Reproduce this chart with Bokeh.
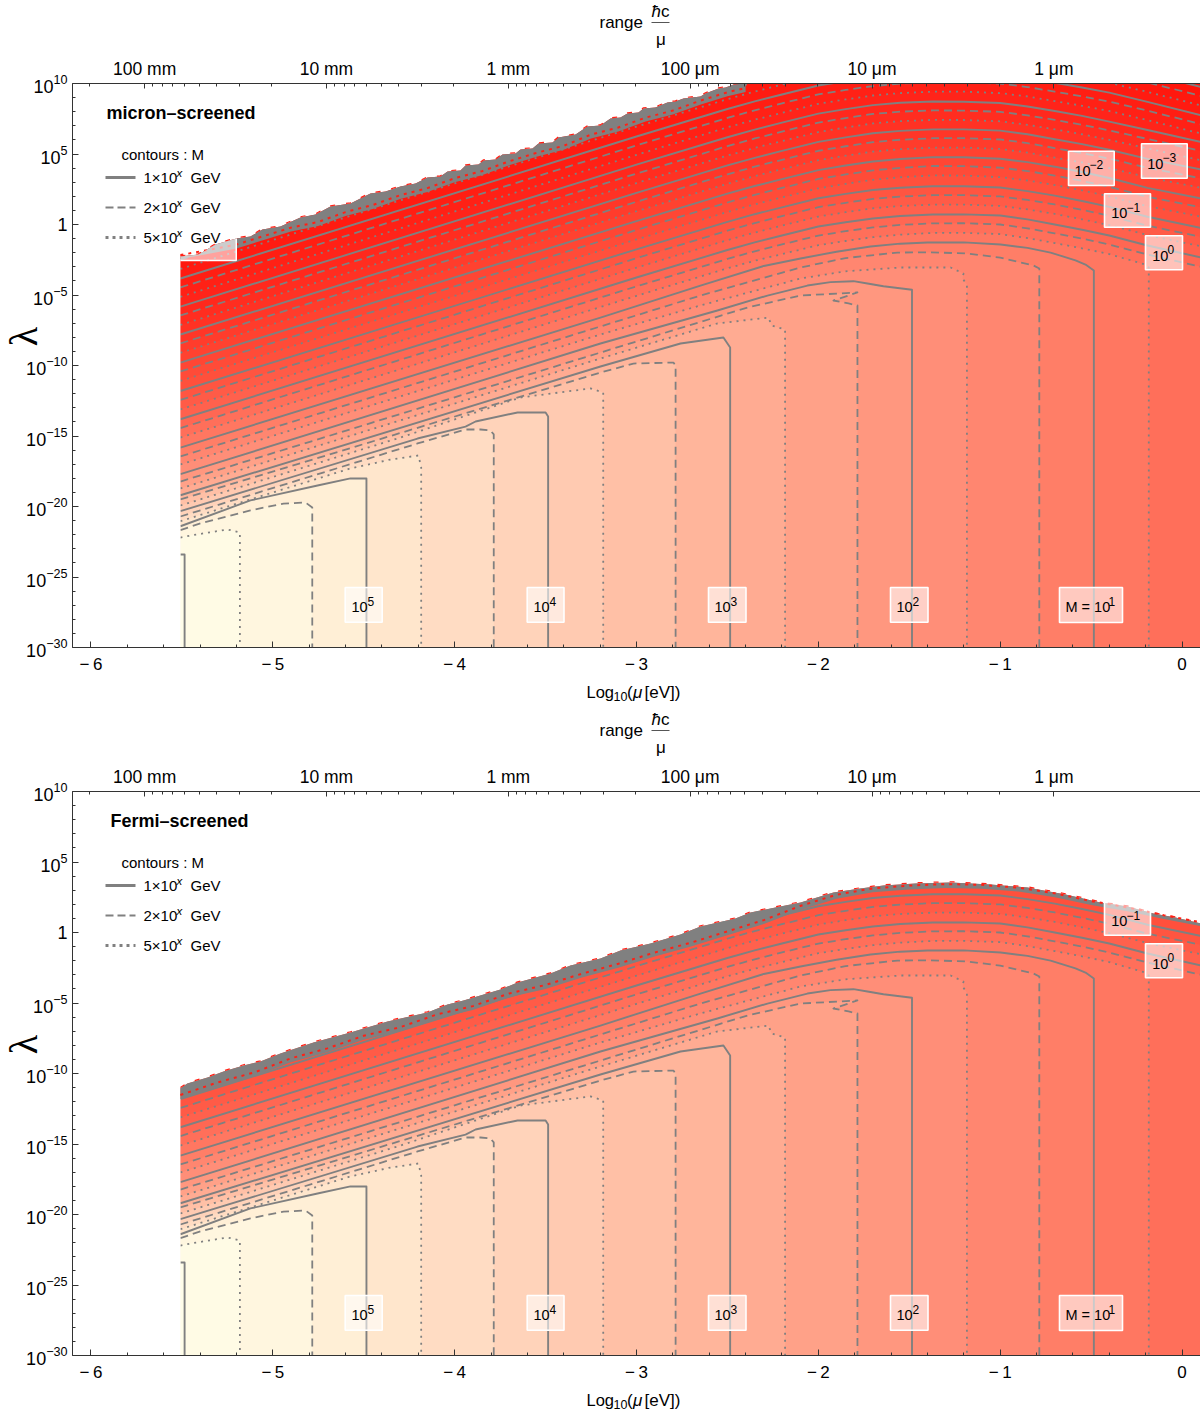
import math
import numpy as np
from bokeh.core.properties import value
from bokeh.embed import file_html
from bokeh.resources import INLINE
from bokeh.layouts import column
from bokeh.models import FixedTicker, Label, LinearAxis, LogTickFormatter, Range1d
from bokeh.plotting import figure

# ---------- values ----------
HBARC_EV_M = 1.973e-7
RANGE_METERS = [0.1, 0.01, 1e-3, 1e-4, 1e-5, 1e-6]
RANGE_LABELS = ["100 mm", "10 mm", "1 mm", "100 μm", "10 μm", "1 μm"]
X_TICKS = [-6, -5, -4, -3, -2, -1, 0]
Y_TICKS_EXP = [-30, -25, -20, -15, -10, -5, 0, 5, 10]

# contours that run off the right edge: x = log10(mu/eV), values = log10(lambda)
UPPER_X = [-5.508, -3.0, -2.5, -2.35, -2.2, -2.0, -1.85, -1.7, -1.55, -1.37, -1.2, -1.0, -0.85, -0.7, -0.55, -0.4, -0.19, 0.105]
V_1em6 = [-1.85, 8.24, 10.19, 10.73, 11.22, 11.86, 12.17, 12.45, 12.62, 12.72, 12.72, 12.62, 12.38, 12.05, 11.72, 11.35, 10.7, 9.75]
V_2em6 = [-2.48, 7.61, 9.56, 10.10, 10.59, 11.23, 11.54, 11.82, 11.99, 12.09, 12.09, 11.99, 11.75, 11.42, 11.09, 10.72, 10.07, 9.12]
V_5em6 = [-3.15, 6.94, 8.89, 9.43, 9.92, 10.56, 10.87, 11.15, 11.32, 11.42, 11.42, 11.32, 11.08, 10.75, 10.42, 10.05, 9.4, 8.45]
V_1em5 = [-3.83, 6.24, 8.19, 8.73, 9.22, 9.86, 10.17, 10.45, 10.62, 10.72, 10.72, 10.62, 10.38, 10.05, 9.72, 9.35, 8.7, 7.75]
V_2em5 = [-4.46, 5.61, 7.56, 8.10, 8.59, 9.23, 9.54, 9.82, 9.99, 10.09, 10.09, 9.99, 9.75, 9.42, 9.09, 8.72, 8.07, 7.12]
V_5em5 = [-5.13, 4.94, 6.89, 7.43, 7.92, 8.56, 8.87, 9.15, 9.32, 9.42, 9.42, 9.32, 9.08, 8.75, 8.42, 8.05, 7.4, 6.45]
V_1em4 = [-5.82, 4.24, 6.19, 6.73, 7.22, 7.86, 8.18, 8.47, 8.63, 8.72, 8.71, 8.62, 8.37, 8.05, 7.70, 7.3, 6.7, 5.85]
V_2em4 = [-6.45, 3.61, 5.56, 6.10, 6.59, 7.23, 7.55, 7.84, 8.0, 8.09, 8.08, 7.99, 7.74, 7.42, 7.07, 6.67, 6.07, 5.22]
V_5em4 = [-7.12, 2.94, 4.89, 5.43, 5.92, 6.56, 6.88, 7.17, 7.33, 7.42, 7.41, 7.32, 7.07, 6.75, 6.40, 6.0, 5.4, 4.55]
V_1em3 = [-7.8, 2.24, 4.19, 4.73, 5.22, 5.86, 6.18, 6.47, 6.64, 6.75, 6.75, 6.66, 6.40, 6.05, 5.70, 5.3, 4.65, 3.9]
V_2em3 = [-8.43, 1.61, 3.56, 4.10, 4.59, 5.23, 5.55, 5.84, 6.01, 6.12, 6.12, 6.03, 5.77, 5.42, 5.07, 4.67, 4.02, 3.27]
V_5em3 = [-9.1, 0.94, 2.89, 3.43, 3.92, 4.56, 4.88, 5.17, 5.34, 5.45, 5.45, 5.36, 5.10, 4.75, 4.40, 4.0, 3.35, 2.6]
V_1em2 = [-9.79, 0.24, 2.19, 2.73, 3.22, 3.86, 4.18, 4.47, 4.65, 4.78, 4.77, 4.66, 4.42, 4.1, 3.72, 3.3, 2.6, 1.85]
V_2em2 = [-10.42, -0.39, 1.56, 2.10, 2.59, 3.23, 3.55, 3.84, 4.02, 4.15, 4.14, 4.03, 3.79, 3.47, 3.09, 2.67, 1.97, 1.22]
V_5em2 = [-11.09, -1.06, 0.89, 1.43, 1.92, 2.56, 2.88, 3.17, 3.35, 3.48, 3.47, 3.36, 3.12, 2.8, 2.42, 2.0, 1.3, 0.55]
V_1em1 = [-11.81, -1.76, 0.19, 0.73, 1.22, 1.86, 2.17, 2.45, 2.61, 2.71, 2.71, 2.62, 2.37, 2.05, 1.67, 1.25, 0.55, -0.25]
V_2em1 = [-12.44, -2.39, -0.44, 0.10, 0.59, 1.23, 1.54, 1.82, 1.98, 2.08, 2.08, 1.99, 1.74, 1.42, 1.04, 0.62, -0.08, -0.88]
V_5em1 = [-13.11, -3.06, -1.11, -0.57, -0.08, 0.56, 0.87, 1.15, 1.31, 1.41, 1.41, 1.32, 1.07, 0.75, 0.37, -0.05, -0.75, -1.55]
V_1e0 = [-13.81, -3.76, -1.81, -1.27, -0.78, -0.14, 0.16, 0.43, 0.60, 0.71, 0.72, 0.64, 0.36, 0.0, -0.37, -0.78, -1.49, -2.34]
V_2e0 = [-14.44, -4.39, -2.44, -1.90, -1.41, -0.79, -0.47, -0.21, -0.03, 0.08, 0.09, 0.0, -0.27, -0.63, -1.0, -1.42, -2.13, -3.0]

# contours that turn down into a vertical line
X_5e0 = [-5.508, -3.0, -2.5, -2.35, -2.2, -2.0, -1.85, -1.7, -1.55, -1.37, -1.2, -1.0, -0.85, -0.7, -0.55, -0.4, -0.2, -0.183, -0.183]
V_5e0 = [-15.11, -5.06, -3.11, -2.57, -2.1, -1.47, -1.17, -0.9, -0.72, -0.6, -0.59, -0.68, -0.96, -1.32, -1.69, -2.1, -2.85, -3.05, -30]
X_1e1 = [-5.508, -3.198, -2.648, -2.3, -2.098, -1.9, -1.713, -1.55, -1.4, -1.2, -0.998, -0.85, -0.723, -0.586, -0.531, -0.485, -0.485]
V_1e1 = [-15.82, -6.6, -4.33, -2.94, -2.41, -1.93, -1.56, -1.36, -1.28, -1.27, -1.42, -1.66, -1.99, -2.55, -2.84, -3.26, -30]
X_2e1 = [-5.508, -3.198, -2.648, -2.098, -1.85, -1.565, -1.38, -1.18, -1.0, -0.817, -0.785, -0.785]
V_2e1 = [-16.45, -7.23, -5.04, -3.05, -2.38, -1.99, -1.97, -2.06, -2.35, -2.91, -3.12, -30]
X_5e1 = [-5.508, -3.198, -2.648, -2.098, -1.85, -1.548, -1.273, -1.202, -1.207, -1.183, -1.183]
V_5e1 = [-17.02, -7.8, -5.74, -3.83, -3.32, -3.05, -3.05, -3.48, -3.83, -4.26, -30]
X_1e2 = [-5.508, -3.198, -2.555, -2.28, -2.06, -1.933, -1.807, -1.73, -1.642, -1.485, -1.485]
V_1e2 = [-17.71, -8.44, -6.1, -5.04, -4.33, -4.09, -4.02, -4.18, -4.38, -4.63, -30]
X_2e2 = [-5.508, -3.198, -2.39, -2.098, -1.785, -1.917, -1.834, -1.785, -1.785]
V_2e2 = [-18.23, -9.08, -5.89, -5.04, -4.82, -5.39, -5.6, -5.74, -30]
X_5e2 = [-5.508, -3.198, -2.555, -2.274, -2.258, -2.183, -2.183]
V_5e2 = [-18.72, -9.5, -7.02, -6.6, -7.16, -7.45, -30]
X_1e3 = [-5.508, -3.198, -2.758, -2.522, -2.485, -2.485]
V_1e3 = [-19.2, -10.07, -8.44, -8.01, -8.72, -30]
X_2e3 = [-5.508, -3.198, -3.017, -2.797, -2.785, -2.785]
V_2e3 = [-19.5, -10.5, -9.86, -9.79, -10.0, -30]
X_5e3 = [-5.508, -4.298, -3.638, -3.253, -3.183, -3.183]
V_5e3 = [-19.93, -15.11, -12.27, -11.63, -11.91, -30]
X_1e4 = [-5.508, -4.204, -3.94, -3.885, -3.654, -3.5, -3.486, -3.486]
V_1e4 = [-20.33, -15.18, -14.33, -13.97, -13.33, -13.33, -13.62, -30]
X_2e4 = [-5.508, -4.204, -3.94, -3.858, -3.803, -3.785, -3.785]
V_2e4 = [-20.71, -15.53, -14.54, -14.54, -14.61, -14.89, -30]
X_5e4 = [-5.508, -4.573, -4.353, -4.199, -4.184, -4.184]
V_5e4 = [-21.04, -17.3, -16.67, -16.38, -17.23, -30]
X_1e5 = [-5.508, -5.123, -4.754, -4.573, -4.485, -4.485]
V_1e5 = [-21.4, -19.57, -18.51, -18.01, -18.01, -30]
X_2e5 = [-5.508, -5.398, -5.123, -4.941, -4.82, -4.783, -4.783]
V_2e5 = [-21.67, -21.2, -20.28, -19.79, -19.72, -20.07, -30]
X_5e5 = [-5.508, -5.453, -5.249, -5.181, -5.181]
V_5e5 = [-22.2, -22.06, -21.63, -21.84, -30]
X_1e6 = [-5.508, -5.485, -5.485]
V_1e6 = [-23.4, -23.4, -30]

M_LEVELS = [1e-6, 2e-6, 5e-6, 1e-5, 2e-5, 5e-5, 1e-4, 2e-4, 5e-4, 1e-3, 2e-3, 5e-3, 1e-2, 2e-2, 5e-2,
            1e-1, 2e-1, 5e-1, 1e0, 2e0, 5e0, 1e1, 2e1, 5e1, 1e2, 2e2, 5e2, 1e3, 2e3, 5e3, 1e4, 2e4, 5e4,
            1e5, 2e5, 5e5, 1e6]
M_DIGIT = [1, 2, 5] * 12 + [1]
CONTOUR_X = [UPPER_X] * 20 + [X_5e0, X_1e1, X_2e1, X_5e1, X_1e2, X_2e2, X_5e2, X_1e3, X_2e3, X_5e3,
                              X_1e4, X_2e4, X_5e4, X_1e5, X_2e5, X_5e5, X_1e6]
CONTOUR_V = [V_1em6, V_2em6, V_5em6, V_1em5, V_2em5, V_5em5, V_1em4, V_2em4, V_5em4, V_1em3, V_2em3, V_5em3,
             V_1em2, V_2em2, V_5em2, V_1em1, V_2em1, V_5em1, V_1e0, V_2e0, V_5e0, V_1e1, V_2e1, V_5e1,
             V_1e2, V_2e2, V_5e2, V_1e3, V_2e3, V_5e3, V_1e4, V_2e4, V_5e4, V_1e5, V_2e5, V_5e5, V_1e6]

# upper edge of the computed region, panel 1
EDGE1_X = [-5.508, -5.409, -5.315, -5.201, -5.123, -5.057, -4.958, -4.848, -4.765, -4.683, -4.573, -4.463, -4.380,
           -4.298, -4.215, -4.149, -4.078, -4.039, -3.968, -3.940, -3.869, -3.841, -3.775, -3.737, -3.665, -3.638,
           -3.572, -3.539, -3.462, -3.429, -3.335, -3.270, -3.198, -3.143, -3.088, -3.050, -2.989, -2.962, -2.896,
           -2.830, -2.786, -2.742, -2.648, -2.621, -2.549, -2.510, -2.466, -2.400]
EDGE1_V = [-2.27, -2.13, -1.42, -0.99, -0.85, -0.35, -0.14, 0.50, 0.71, 1.28, 1.49, 2.2, 2.34,
           2.70, 2.91, 3.33, 3.40, 3.76, 3.83, 4.18, 4.26, 4.54, 4.61, 4.96, 5.04, 5.32,
           5.39, 5.74, 5.82, 6.17, 6.38, 6.95, 7.02, 7.52, 7.59, 7.87, 7.94, 8.23, 8.30,
           8.65, 8.72, 8.94, 9.08, 9.29, 9.65, 9.72, 9.93, 10.0]
BAND1_X = [-5.508, -5.3, -5.2, -5.05, -4.9, -4.75, -4.6, -4.45, -4.3, -4.15, -4.0, -3.85, -3.7, -3.55, -3.4, -3.25,
           -3.1, -2.95, -2.8, -2.65, -2.5, -2.4]
BAND1_V = [-2.45, -1.95, -1.7, -1.1, -0.5, -0.1, 0.6, 1.1, 1.8, 2.3, 3.0, 3.5, 4.2, 4.8, 5.3, 6.1,
           6.6, 7.3, 7.8, 8.5, 9.1, 9.4]

# upper edge of the computed region, panel 2
EDGE2_X = [-5.508, -5.47, -5.359, -5.271, -5.161, -5.068, -4.958, -4.776, -4.573, -4.369, -4.149, -4.039, -3.951,
           -3.748, -3.654, -3.473, -3.363, -3.198, -3.088, -2.923, -2.758, -2.648, -2.456, -2.373, -2.236, -2.098,
           -1.917, -1.77, -1.642, -1.466, -1.273, -1.054, -0.85, -0.641, -0.449, -0.3, -0.157, -0.036, 0.102]
EDGE2_V = [-11.04, -10.71, -10.28, -9.86, -9.43, -9.15, -8.58, -7.80, -7.09, -6.31, -5.67, -5.11, -4.82,
           -4.04, -3.55, -2.91, -2.34, -1.84, -1.28, -0.78, -0.14, 0.43, 0.99, 1.42, 1.77, 2.13,
           2.84, 3.12, 3.33, 3.48, 3.55, 3.40, 3.19, 2.70, 2.13, 1.84, 1.35, 1.06, 0.64]
BAND2_X = [-5.508, -5.3, -5.1, -4.9, -4.7, -4.5, -4.3, -4.1, -3.9, -3.7, -3.5, -3.3, -3.1, -2.9, -2.7, -2.5, -2.3,
           -2.1, -1.9, -1.7, -1.5, -1.3, -1.1, -0.9, -0.7, -0.5, -0.3, -0.1, 0.102]
BAND2_V = [-11.8, -10.9, -10.2, -9.2, -8.5, -7.6, -7.0, -6.1, -5.5, -4.6, -4.0, -3.2, -2.5, -1.7, -1.0, -0.2, 0.6,
           1.6, 2.4, 2.85, 3.05, 3.15, 3.1, 2.9, 2.5, 1.95, 1.5, 0.95, 0.45]

# ---------- styling and page geometry ----------
FONT = "Liberation Sans"
GRAY = "#808080"
FRAME_L, FRAME_R, FRAME_T, FRAME_B = 72, 1200, 83, 647
DOMAIN_L = -5.508
LEFT_EXTRA = 22  # thickness the rotated lambda adds to the left panel
FIG_W = 1200 + 2 * LEFT_EXTRA


def to_x(px):
    return -5 + (px - 272.3) / 181.85


def to_v(py):
    return 10 - (py - 83) / 14.1


def lam(vs):
    return [10.0 ** v for v in vs]


COLOR_LOG = [-7, -6, -5, -4, -3, -2, -1, 0, 1, 2, 3, 4, 5, 5.3, 6, 7]
COLOR_G = [18, 20, 28, 38, 52, 68, 82, 100, 122, 146, 176, 207, 234, 243, 253, 254]
COLOR_B = [8, 10, 18, 27, 38, 50, 62, 80, 100, 123, 150, 182, 208, 220, 232, 236]


def band_color(logm):
    g = int(round(np.interp(logm, COLOR_LOG, COLOR_G)))
    b = int(round(np.interp(logm, COLOR_LOG, COLOR_B)))
    return "#ff%02x%02x" % (g, b)


def ptext(p, px, py, text, size, align="left", baseline="middle", style="normal", color="black",
          font=FONT, angle=0.0, side=None):
    lab = Label(x=to_x(px), y=10.0 ** to_v(py), text=text, x_units="data", y_units="data",
                text_font=font, text_font_size=f"{size}px", text_align=align,
                text_baseline=baseline, text_font_style=style, text_color=color, angle=angle)
    if side:
        # a label held in a side panel is not cut to the frame
        p.add_layout(lab, side)
    else:
        p.add_layout(lab)


def box(p, l, r, t, b):
    p.quad(left=to_x(l), right=to_x(r), top=10.0 ** to_v(t), bottom=10.0 ** to_v(b),
           fill_color="white", fill_alpha=0.58, line_color="white", line_width=1.6)


def power_label(p, l, r, t, b, tx, ty, sx, sy, exponent, prefix="10"):
    box(p, l, r, t, b)
    ptext(p, tx - 1, ty, prefix, 14.5)
    ptext(p, sx + 1, sy, exponent, 12)


def strip(height, items, bar=False):
    # the column lines frames up, so this frame spans the same screen columns as the panels' frames
    s = figure(width=FIG_W, height=height, x_range=Range1d(FRAME_L, FRAME_R), y_range=Range1d(height, 0),
               x_axis_type=None, y_axis_type=None, output_backend="svg", toolbar_location=None,
               min_border=0, outline_line_color=None, margin=(0, 0, 0, -LEFT_EXTRA))
    s.grid.visible = False
    for x, y, text, size, style, align in items:
        s.text(x=[x], y=[y], text=[text], text_font=value(FONT), text_font_size=value(f"{size}px"),
               text_font_style=style, text_align=align, text_baseline="middle", text_color="black")
    if bar:
        s.line([651, 669], [22, 22], line_color="#555555", line_width=1.2)
    return s


def header():
    return strip(48, [(599, 22, "range", 17, "normal", "left"),
                      (651, 10.5, "ħ", 17, "italic", "left"),
                      (660.5, 10.5, "c", 17, "normal", "left"),
                      (660.5, 39, "μ", 17, "normal", "center")], bar=True)


def footer(height):
    return strip(height, [(586, 14.5, "Log", 16.5, "normal", "left"),
                          (613, 18.5, "10", 12.5, "normal", "left"),
                          (626.5, 14.5, "(", 17, "normal", "left"),
                          (632.5, 14.5, "μ", 17, "italic", "left"),
                          (644, 14.5, "[eV])", 17, "normal", "left")])


def panel(title, title_px, edge_x, edge_v, band_x, band_v, labels):
    x0, x1 = to_x(FRAME_L), to_x(FRAME_R)
    p = figure(width=FIG_W, height=629, x_range=Range1d(x0, x1), y_range=Range1d(1e-30, 1e10),
               y_axis_type="log", output_backend="svg", toolbar_location=None,
               min_border_left=72, min_border_right=0, min_border_top=35, min_border_bottom=30,
               margin=(0, 0, 0, -LEFT_EXTRA))
    p.grid.visible = False
    p.outline_line_color = None
    p.background_fill_color = "white"

    # base colour, then bands from the reddest up to the palest
    p.patch([DOMAIN_L, 0.2, 0.2, DOMAIN_L], lam([-30, -30, 10, 10]), fill_color=band_color(-6.3), line_color=None)
    logs = [math.log10(m) for m in M_LEVELS]
    for i in range(len(M_LEVELS)):
        up = logs[i + 1] if i + 1 < len(logs) else logs[i] + 0.3
        xs, vs = CONTOUR_X[i], CONTOUR_V[i]
        p.patch(xs + [xs[-1], xs[0]], lam(vs + [-30, -30]), fill_color=band_color((logs[i] + up) / 2), line_color=None)
    for i in range(len(M_LEVELS)):
        d = M_DIGIT[i]
        dash = {1: "solid", 2: "8 5", 5: "2 5"}[d]
        p.line(CONTOUR_X[i], lam(CONTOUR_V[i]), line_color=GRAY, line_dash=dash,
               line_width=1.9 if d == 1 else 1.8, line_join="round")

    # white above the edge of the computed region
    if edge_v[-1] >= 10:
        mx = [x0 - 0.1, DOMAIN_L] + edge_x + [x0 - 0.1]
        mv = [-30, -30] + edge_v + [10.3]
    else:
        mx = [x0 - 0.1, DOMAIN_L] + edge_x + [x1 + 0.1, x1 + 0.1, x0 - 0.1]
        mv = [-30, -30] + edge_v + [edge_v[-1], 10.3, 10.3]
    p.patch(mx, lam(mv), fill_color="white", line_color=None)

    # the crowded contours along the edge read as a rough grey band
    p.patch(edge_x + band_x[::-1], lam(edge_v + band_v[::-1]), fill_color=GRAY, line_color=None)
    p.line(band_x, lam([v + 0.28 for v in band_v]), line_color="#ff2015", line_width=2, line_dash="3 5")
    p.line(edge_x, lam([v + 0.05 for v in edge_v]), line_color="#ff2015", line_width=1.2, line_dash="5 11")

    # frame of axes
    for ax in (p.xaxis[0], p.yaxis[0]):
        ax.axis_line_color = "#333333"
        ax.major_tick_line_color = "#333333"
        ax.minor_tick_line_color = "#333333"
        ax.major_tick_in, ax.major_tick_out = 6, 0
        ax.minor_tick_in, ax.minor_tick_out = 3, 0
        ax.major_label_text_font = FONT
        ax.major_label_text_color = "black"
    bx = p.xaxis[0]
    bx.major_label_text_font_size = "17px"
    bx.ticker = FixedTicker(ticks=X_TICKS, minor_ticks=[k / 5 for k in range(-30, 1) if k % 5])
    bx.major_label_overrides = {t: ("0" if t == 0 else "−\u2009" + str(-t)) for t in X_TICKS}
    bx.major_label_standoff = 7

    ly = p.yaxis[0]
    ly.major_label_text_font_size = "18px"
    ly.ticker = FixedTicker(ticks=[10.0 ** e for e in Y_TICKS_EXP], minor_ticks=[10.0 ** e for e in range(-30, 11)])
    ly.formatter = LogTickFormatter()
    ly.major_label_overrides = {1.0: "1"}
    ly.major_label_standoff = 5

    majors = [math.log10(HBARC_EV_M / r) for r in RANGE_METERS]
    minors = [math.log10(HBARC_EV_M / (k * r)) for r in [1.0, *RANGE_METERS] for k in range(2, 10)]
    minors = [m for m in minors if x0 < m < x1]
    tx = LinearAxis(ticker=FixedTicker(ticks=majors, minor_ticks=minors),
                    major_label_overrides=dict(zip(majors, RANGE_LABELS)))
    tx.axis_line_color = tx.major_tick_line_color = tx.minor_tick_line_color = "#333333"
    tx.major_tick_in, tx.major_tick_out = 5, 0
    tx.minor_tick_in, tx.minor_tick_out = 3, 0
    tx.major_label_text_font = FONT
    tx.major_label_text_font_size = "17.5px"
    tx.major_label_text_color = "black"
    tx.major_label_standoff = 5
    p.add_layout(tx, "above")

    # titles and legend
    ptext(p, title_px, 112, title, 18, style="bold")
    ptext(p, 121, 153.5, "contours : M", 15)
    rows = [(177, "solid", "1", 2.8), (207, "8 4", "2", 2.2), (237, "3 4", "5", 2.8)]
    for py, dash, digit, w in rows:
        p.line([to_x(105), to_x(135)], [10.0 ** to_v(py), 10.0 ** to_v(py)], line_color=GRAY, line_dash=dash, line_width=w)
        ptext(p, 143, py, digit + "×10", 15)
        ptext(p, 176, py - 5, "x", 11.5, style="italic")
        ptext(p, 190, py, "GeV", 15)

    for item in labels:
        power_label(p, *item)

    ptext(p, 23, 336, "λ", 40, align="center", font="Liberation Serif", angle=math.pi / 2, side="left")
    return p


LOW_ROW = [
    (344.7, 381.7, 587, 621.7, 352, 606.7, 366, 600.5, "5"),
    (526.7, 563.5, 587, 621.7, 534, 606.7, 548, 600.5, "4"),
    (708, 745.5, 587, 621.7, 715, 606.7, 729, 600.5, "3"),
    (890, 927.5, 587, 621.7, 897, 606.7, 911, 600.5, "2"),
    (1059, 1122, 587, 622, 1066, 606.7, 1107, 600.5, "1", "M = 10"),
]
L_M3 = (1141, 1186.7, 143.3, 177.7, 1147.7, 163, 1161, 156.7, "−3")
L_M2 = (1068, 1113.7, 150.7, 185, 1075, 170, 1088, 164, "−2")
L_M1 = (1104, 1150, 193.3, 226.7, 1111.7, 212.7, 1125, 206.7, "−1")
L_0 = (1145, 1182, 235.3, 269.3, 1152.7, 255, 1166, 249, "0")

p1 = panel("micron–screened", 106, EDGE1_X, EDGE1_V, BAND1_X, BAND1_V, LOW_ROW + [L_M3, L_M2, L_M1, L_0])
# partly clipped label in the upper-left corner of the first panel
p1.patch(EDGE1_X[:4] + [EDGE1_X[3], EDGE1_X[0]], lam(EDGE1_V[:4] + [to_v(260), to_v(260)]),
         fill_color="white", fill_alpha=0.6, line_color=None)
p1.line([EDGE1_X[0], EDGE1_X[3], EDGE1_X[3]], lam([to_v(260), to_v(260), EDGE1_V[3]]), line_color="white", line_width=1.5)

p2 = panel("Fermi–screened", 110, EDGE2_X, EDGE2_V, BAND2_X, BAND2_V, LOW_ROW + [L_M1, L_0])

layout = column(header(), p1, footer(31), header(), p2, footer(25), spacing=0)
open("out.html", "w").write(file_html(layout, INLINE))
